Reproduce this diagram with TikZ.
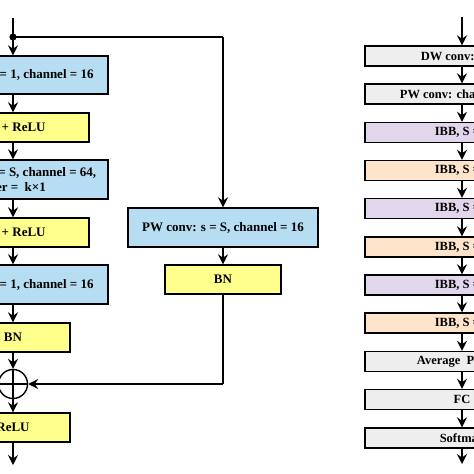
\documentclass[tikz,border=0pt]{standalone}
\usepackage{fontspec}
\setmainfont{Liberation Serif}
\usetikzlibrary{arrows.meta}
\definecolor{cblue}{RGB}{182,221,242}
\definecolor{cyellow}{RGB}{255,255,140}
\definecolor{cpurple}{RGB}{226,214,236}
\definecolor{corange}{RGB}{253,228,202}
\definecolor{cgray}{RGB}{238,238,238}
\tikzset{
  box/.style={draw=black, line width=1.4pt, rectangle, inner sep=0pt, align=center,
    font=\fontsize{13}{15}\selectfont\bfseries},
  bluebox/.style={box, fill=cblue, minimum width=190pt, minimum height=38pt},
  yelbox/.style={box, fill=cyellow, minimum height=29pt},
  rbox/.style={box, minimum width=194pt, minimum height=20pt, font=\fontsize{12.5}{14}\selectfont\bfseries},
  arr/.style={line width=1.6pt, -{Stealth[length=10pt,width=10pt,inset=3.5pt]}},
  ln/.style={line width=1.6pt},
}
\begin{document}
\begin{tikzpicture}[x=1pt,y=-1pt]
\useasboundingbox (0,0) rectangle (474,474);
\clip (0,0) rectangle (474,474);
% left column
\coordinate (in) at (13,18);
\coordinate (dot) at (13,37);
\node[bluebox] (b1) at (13,75) {PW conv: s = 1, channel = 16};
\node[yelbox, minimum width=152pt] (b2) at (13,127.5) {BN + ReLU};
\node[bluebox, minimum height=39pt] (b3) at (13,179.5) {DW conv: s = S, channel = 64,\\filter =\ \ k×1};
\node[yelbox, minimum width=152pt] (b4) at (13,232.5) {BN + ReLU};
\node[bluebox, minimum height=39pt] (b5) at (13,284.5) {PW conv: s = 1, channel = 16};
\node[yelbox, minimum width=114pt] (b6) at (13,337.5) {BN};
\node[draw=black, line width=1.4pt, circle, minimum size=29pt, inner sep=0pt] (add) at (13,384) {};
\node[yelbox, minimum width=114pt] (b7) at (13,427.5) {ReLU};
\coordinate (out) at (13,465);
% shortcut
\coordinate (tr) at (223,37);
\node[bluebox, minimum height=39pt] (pw) at (223,227.5) {PW conv: s = S, channel = 16};
\node[yelbox, minimum width=116pt] (bn) at (223,279.5) {BN};
\coordinate (br) at (223,384);
% arrows left
\draw[arr] (in) -- (b1);
\fill (dot) circle (3.6pt);
\draw[arr] (b1) -- (b2);
\draw[arr] (b2) -- (b3);
\draw[arr] (b3) -- (b4);
\draw[arr] (b4) -- (b5);
\draw[arr] (b5) -- (b6);
\draw[arr] (b6) -- (add);
\draw[ln] (add.north) -- (add.south);
\draw[ln] (add.west) -- (add.east);
\draw[arr] (add) -- (b7);
\draw[arr] (b7) -- (out);
\draw[ln] (dot) -- (tr);
\draw[arr] (tr) -- (pw);
\draw[arr] (pw) -- (bn);
\draw[ln] (bn) -- (br);
\draw[arr] (br) -- (add);
% right column
\coordinate (rin) at (462,17);
\node[rbox, fill=cgray] (r1) at (462,56) {DW conv: s = 2};
\node[rbox, fill=cgray] (r2) at (462,94) {PW conv: channel = 16};
\node[rbox, fill=cpurple] (r3) at (462,132.5) {IBB, S = 2};
\node[rbox, fill=corange] (r4) at (462,170.5) {IBB, S = 1};
\node[rbox, fill=cpurple] (r5) at (462,208.5) {IBB, S = 2};
\node[rbox, fill=corange] (r6) at (462,247) {IBB, S = 1};
\node[rbox, fill=cpurple] (r7) at (462,285) {IBB, S = 2};
\node[rbox, fill=corange] (r8) at (462,323) {IBB, S = 1};
\node[rbox, fill=cgray] (r9) at (462,361.5) {Average\ \ Pooling};
\node[rbox, fill=cgray] (r10) at (462,399.5) {FC};
\node[rbox, fill=cgray] (r11) at (462,438) {Softmax};
\coordinate (rout) at (462,464);
\draw[arr] (rin) -- (r1);
\draw[arr] (r1) -- (r2);
\draw[arr] (r2) -- (r3);
\draw[arr] (r3) -- (r4);
\draw[arr] (r4) -- (r5);
\draw[arr] (r5) -- (r6);
\draw[arr] (r6) -- (r7);
\draw[arr] (r7) -- (r8);
\draw[arr] (r8) -- (r9);
\draw[arr] (r9) -- (r10);
\draw[arr] (r10) -- (r11);
\draw[arr] (r11) -- (rout);
\end{tikzpicture}
\end{document}
